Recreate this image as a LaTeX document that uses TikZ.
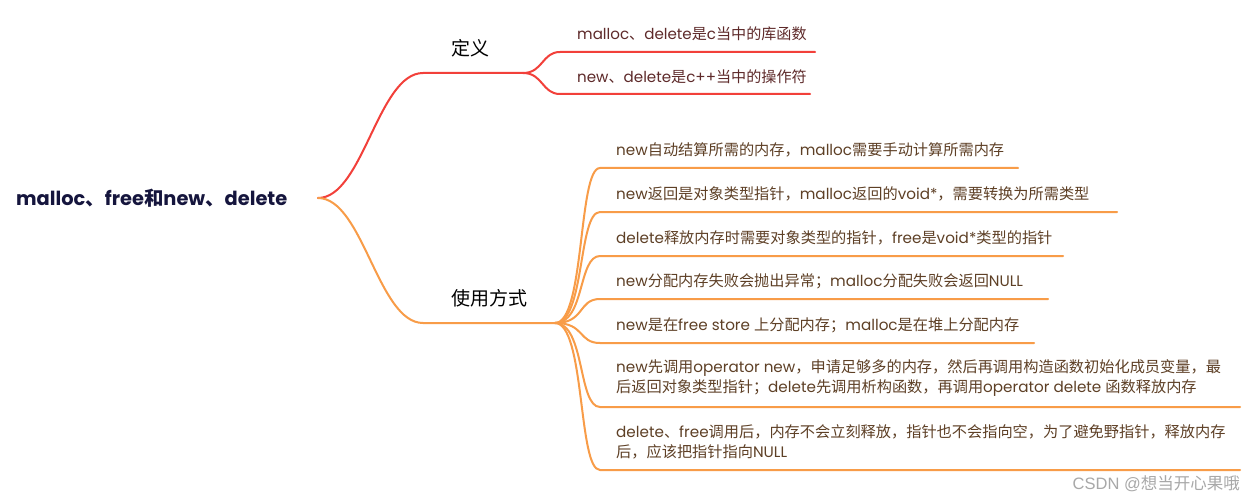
\documentclass[tikz,border=0pt]{standalone}
\usepackage{fontspec}
\setmainfont{Poppins}
\newfontfamily\cjkfont{Noto Sans CJK SC}
\newfontfamily\latinfont{Poppins}
\newfontfamily\wmfont{Liberation Sans}
\def\latinsel{\latinfont}
\XeTeXinterchartokenstate=1
\newXeTeXintercharclass\cjkclass
\newcount\cc
\def\setrange#1#2{\cc=#1 \loop\XeTeXcharclass\cc=\cjkclass \ifnum\cc<#2 \advance\cc by 1 \repeat}
\setrange{"3000}{"303F}
\setrange{"4E00}{"9FFF}
\setrange{"FF00}{"FFEF}
\XeTeXinterchartoks 0 \cjkclass = {\cjkfont}
\XeTeXinterchartoks 4095 \cjkclass = {\cjkfont}
\XeTeXinterchartoks \cjkclass 0 = {\latinsel}
\definecolor{redc}{HTML}{F2403A}
\definecolor{orc}{HTML}{F89C48}
\definecolor{rootc}{HTML}{15153D}
\definecolor{redtxt}{HTML}{5E2A2A}
\definecolor{ortxt}{HTML}{5E4026}
\definecolor{wmc}{HTML}{A8A8A8}
\tikzset{
  rootnode/.style={font=\fontsize{19.4}{22}\selectfont\bfseries, text=rootc, inner sep=0pt, anchor=west},
  labnode/.style={font=\fontsize{19}{22}\selectfont, text=black, inner sep=0pt},
  redtext/.style={font=\fontsize{15.1}{20}\selectfont, text=redtxt, inner sep=0pt, anchor=west},
  ortext/.style={font=\fontsize{15.2}{20}\selectfont, text=ortxt, inner sep=0pt, anchor=west, align=left},
  redline/.style={draw=redc, line width=2pt, line cap=round},
  orline/.style={draw=orc, line width=2pt, line cap=round},
}
\begin{document}
\begin{tikzpicture}[x=1pt,y=-1pt]
\useasboundingbox[fill=white] (0,0) rectangle (1256,500);
% root
\node[rootnode] (root) at (16,198) {malloc、free和new、delete};
\coordinate (r) at (318,198);
% level 1
\node[labnode] (def) at (470,48) {定义};
\node[labnode] (use) at (489,298) {使用方式};
\coordinate (ds) at (423,73);
\coordinate (dj) at (523,73);
\coordinate (us) at (423,323);
\coordinate (uj) at (555,323);
\draw[redline] (r) .. controls +(45,0) and +(-45,0) .. (ds) -- (dj);
\draw[orline] (r) .. controls +(45,0) and +(-45,0) .. (us) -- (uj);
% red children
\node[redtext] (d1) at (577,34) {malloc、delete是c当中的库函数};
\node[redtext] (d2) at (577,77) {new、delete是c++当中的操作符};
\coordinate (d1s) at (560,52); \coordinate (d1e) at (815,52);
\coordinate (d2s) at (560,94); \coordinate (d2e) at (810,94);
\draw[redline] (dj) .. controls +(20,0) and +(-18,0) .. (d1s) -- (d1e);
\draw[redline] (dj) .. controls +(20,0) and +(-18,0) .. (d2s) -- (d2e);
% orange children
\node[ortext] (u1) at (616,150) {new自动结算所需的内存，malloc需要手动计算所需内存};
\node[ortext] (u2) at (616,194) {new返回是对象类型指针，malloc返回的void*，需要转换为所需类型};
\node[ortext] (u3) at (616,238) {delete释放内存时需要对象类型的指针，free是void*类型的指针};
\node[ortext] (u4) at (616,281) {new分配内存失败会抛出异常；malloc分配失败会返回NULL};
\node[ortext] (u5) at (616,325) {new是在free store 上分配内存；malloc是在堆上分配内存};
\node[ortext] (u6) at (616,378) {new先调用operator new，申请足够多的内存，然后再调用构造函数初始化成员变量，最\\后返回对象类型指针；delete先调用析构函数，再调用operator delete 函数释放内存};
\node[ortext] (u7) at (616,442) {delete、free调用后，内存不会立刻释放，指针也不会指向空，为了避免野指针，释放内存\\后，应该把指针指向NULL};
\foreach \n/\y/\e in {1/168/1018, 2/212/1117, 3/256/1063, 4/299/1048, 5/343/1034, 6/407/1240, 7/470/1240}{
  \coordinate (u\n s) at (600,\y);
  \coordinate (u\n e) at (\e,\y);
  \draw[orline] (uj) .. controls +(30,0) and +(-22,0) .. (u\n s) -- (u\n e);
}
% watermark
\node[font=\fontsize{16.5}{19}\selectfont, text=wmc, inner sep=0pt, anchor=east] (wm) at (1240,484) {\def\latinsel{\wmfont}\wmfont CSDN @想当开心果哦};
\end{tikzpicture}
\end{document}
